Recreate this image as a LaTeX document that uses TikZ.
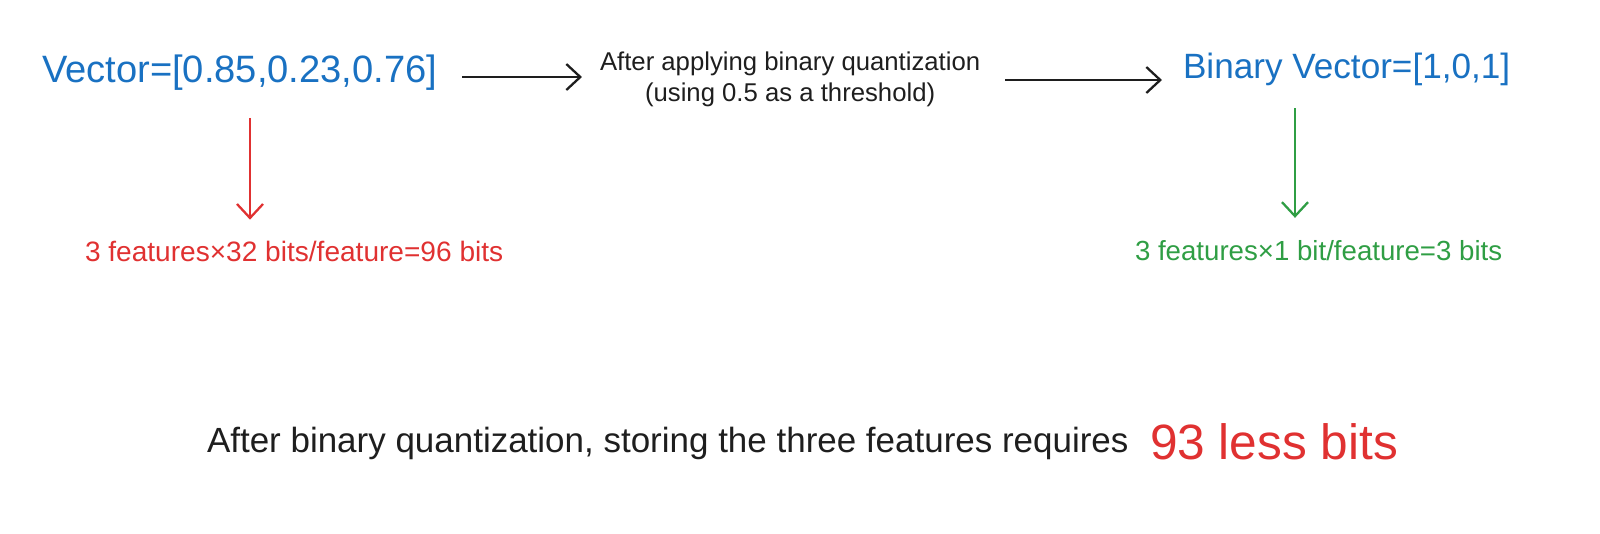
\documentclass[tikz,border=0pt]{standalone}
\usepackage{fontspec}
\setmainfont{Liberation Sans}
\usetikzlibrary{arrows.meta}
\definecolor{exblue}{HTML}{1971C2}
\definecolor{exred}{HTML}{E03131}
\definecolor{exgreen}{HTML}{2F9E44}
\definecolor{exblack}{HTML}{1E1E1E}
\newcommand{\fitw}[2]{\resizebox{#1}{!}{#2}}
\begin{document}
\begin{tikzpicture}[x=0.01cm,y=-0.01cm,
  txt/.style={inner sep=0pt, outer sep=0pt, anchor=west},
  arr/.style={line width=0.65pt, exblack, -{Straight Barb[length=0.14cm,width=0.26cm,line width=0.65pt]}},
  redarr/.style={arr, exred},
  greenarr/.style={arr, exgreen}]
\useasboundingbox (0,0) rectangle (1600,533);
\node[txt, text=exblue] (vec) at (42,73) {\fitw{3.95cm}{Vector=[0.85,0.23,0.76]}};
\node[txt, text=exblack] (mid) at (600,80) {\fitw{3.8cm}{\begin{tabular}{@{}c@{}}After applying binary quantization\\(using 0.5 as a threshold)\end{tabular}}};
\node[txt, text=exblue] (bin) at (1183,69) {\fitw{3.27cm}{Binary Vector=[1,0,1]}};
\node[txt, text=exred] (red) at (85,251) {\fitw{4.18cm}{3 features×32 bits/feature=96 bits}};
\node[txt, text=exgreen] (green) at (1135,251) {\fitw{3.67cm}{3 features×1 bit/feature=3 bits}};
\node[txt, text=exblack] (sum) at (207,443) {\fitw{9.21cm}{After binary quantization, storing the three features requires}};
\node[txt, text=exred] (less) at (1150,442) {\fitw{2.48cm}{93 less bits}};
\coordinate (rx) at (250,0);
\coordinate (gx) at (1295,0);
\coordinate (a1) at ([xshift=0.25cm,yshift=-0.04cm]vec.east);
\draw[arr] (a1) -- ([xshift=-0.18cm]mid.west |- a1);
\draw[arr] ([xshift=0.25cm]mid.east) -- ([xshift=-0.21cm]bin.west |- mid.east);
\draw[redarr] (vec.south -| rx) ++(0,27) -- ([yshift=0.21cm]red.north -| rx);
\draw[greenarr] (bin.south -| gx) ++(0,23) -- ([yshift=0.23cm]green.north -| gx);
\end{tikzpicture}
\end{document}
